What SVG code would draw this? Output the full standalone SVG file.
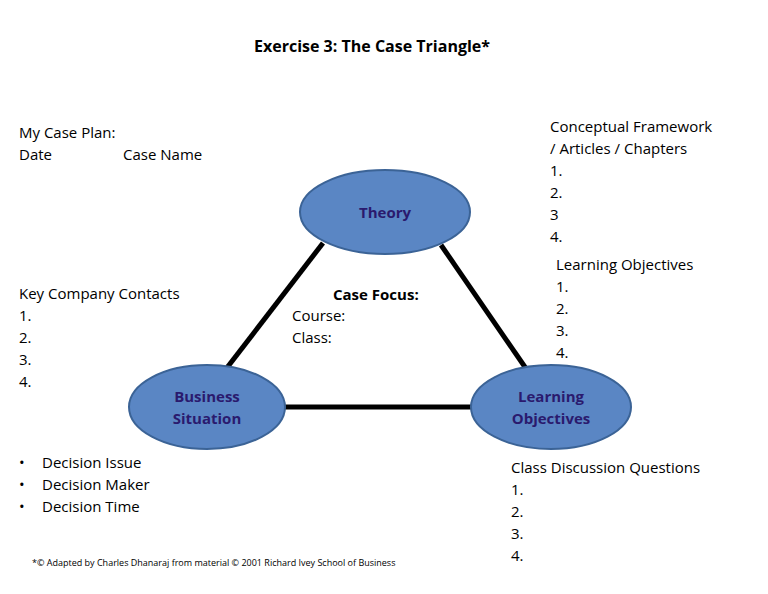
<svg xmlns="http://www.w3.org/2000/svg" width="768" height="594" viewBox="0 0 768 594">
<style>
text{font-family:"Open Sans","Liberation Sans",sans-serif;font-size:15px;fill:#000}
.t{font-weight:bold;font-size:16px}
.n{font-weight:bold;font-size:15px;fill:#2a1a6e;text-anchor:middle}
.e{fill:#5a86c4;stroke:#3b6396;stroke-width:2}
.c line{stroke:#000;stroke-width:5}
.s{font-size:9px}
</style>
<rect width="768" height="594" fill="#fff"/>
<text x="372" y="52" class="t" text-anchor="middle">Exercise 3: The Case Triangle*</text>
<g class="c">
<line x1="323" y1="243" x2="226" y2="369"/>
<line x1="441" y1="245" x2="527" y2="370"/>
<line x1="285" y1="407" x2="471" y2="407"/>
</g>
<g id="theory"><ellipse class="e" cx="385" cy="212" rx="85" ry="42"/><text x="385" y="218" class="n">Theory</text></g>
<g id="business"><ellipse class="e" cx="207" cy="407" rx="78" ry="42"/><text x="207" y="402" class="n">Business</text><text x="207" y="424" class="n">Situation</text></g>
<g id="learning"><ellipse class="e" cx="551" cy="407" rx="80" ry="42"/><text x="551" y="402" class="n">Learning</text><text x="551" y="424" class="n">Objectives</text></g>
<text x="19" y="138">My Case Plan:</text>
<text x="19" y="160">Date</text><text x="123" y="160">Case Name</text>
<text x="550" y="132">Conceptual Framework</text>
<text x="550" y="154"> / Articles / Chapters</text>
<text x="550" y="176">1.</text><text x="550" y="198">2.</text><text x="550" y="220">3</text><text x="550" y="242">4.</text>
<text x="556" y="270">Learning Objectives</text>
<text x="556" y="292">1.</text><text x="556" y="314">2.</text><text x="556" y="336">3.</text><text x="556" y="358">4.</text>
<text x="19" y="299">Key Company Contacts</text>
<text x="19" y="321">1.</text><text x="19" y="343">2.</text><text x="19" y="365">3.</text><text x="19" y="387">4.</text>
<text x="333" y="300" style="font-weight:bold">Case Focus:</text>
<text x="292" y="321">Course:</text><text x="292" y="343">Class:</text>
<text x="19" y="468">•</text><text x="42" y="468">Decision Issue</text>
<text x="19" y="490">•</text><text x="42" y="490">Decision Maker</text>
<text x="19" y="512">•</text><text x="42" y="512">Decision Time</text>
<text x="511" y="473">Class Discussion Questions</text>
<text x="511" y="495">1.</text><text x="511" y="517">2.</text><text x="511" y="539">3.</text><text x="511" y="561">4.</text>
<text x="32" y="566" class="s">*© Adapted by Charles Dhanaraj from material © 2001 Richard Ivey School of Business</text>
</svg>
